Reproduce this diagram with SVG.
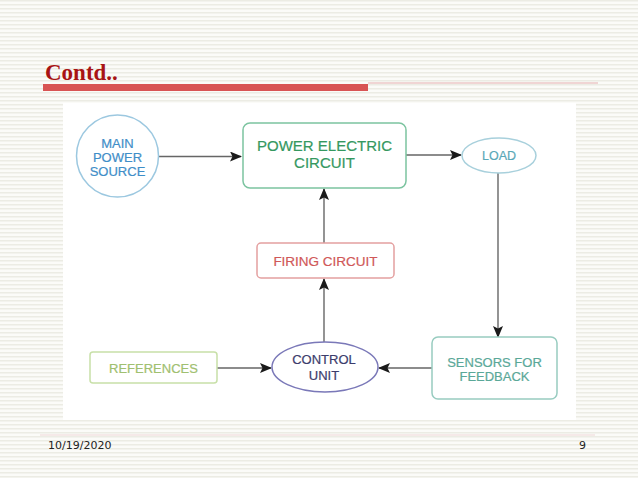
<svg xmlns="http://www.w3.org/2000/svg" width="638" height="478" viewBox="0 0 638 478">
<defs>
<pattern id="stripes" width="4" height="4" patternUnits="userSpaceOnUse">
<rect width="4" height="4" fill="#fbfbf8"/>
<rect y="0" width="4" height="1.5" fill="#ecece4"/>
</pattern>
<marker id="ah" viewBox="0 0 12 10" refX="11" refY="5" markerWidth="12" markerHeight="10" markerUnits="userSpaceOnUse" orient="auto">
<path d="M0,0 L12,5 L0,10 L2.5,5 Z" fill="#1a1a1a"/>
</marker>
<style>
text.t{font-family:"Liberation Sans",Arial,Helvetica,sans-serif;text-anchor:middle;stroke-width:0.2}
.c{stroke:#666;stroke-width:1.4;fill:none;marker-end:url(#ah)}
</style>
</defs>
<rect width="638" height="478" fill="url(#stripes)"/>
<text x="45" y="80" font-family="'Liberation Serif','Times New Roman',serif" font-weight="bold" font-size="23" fill="#a81414">Contd..</text>
<line x1="368" y1="83" x2="598" y2="83" stroke="#e6b0b0" stroke-width="1.2"/>
<rect x="43" y="84" width="325" height="7" fill="#d85454"/>
<rect x="63" y="103" width="513" height="317" fill="#ffffff"/>
<g id="connectors">
<line class="c" x1="159" y1="156.5" x2="241" y2="156.5"/>
<line class="c" x1="406" y1="155" x2="461" y2="155"/>
<line class="c" x1="498" y1="173" x2="498" y2="337"/>
<line class="c" x1="324" y1="243" x2="324" y2="189"/>
<line class="c" x1="324" y1="342" x2="324" y2="279"/>
<line class="c" x1="432" y1="368" x2="379" y2="368"/>
<line class="c" x1="217" y1="368" x2="271" y2="368"/>
</g>
<g id="main-power-source">
<circle cx="117.5" cy="156" r="41" fill="#fff" stroke="#9cc8e0" stroke-width="1.5"/>
<text class="t" font-size="13" fill="#3f8ec8" stroke="#3f8ec8"><tspan x="117.5" y="148">MAIN</tspan><tspan x="117.5" y="162">POWER</tspan><tspan x="117.5" y="176">SOURCE</tspan></text>
</g>
<g id="power-electric-circuit">
<rect x="243" y="123" width="163" height="65" rx="7" fill="#fff" stroke="#7cc4a0" stroke-width="1.5"/>
<text class="t" font-size="15" fill="#35985f" stroke="#35985f"><tspan x="324.5" y="151">POWER ELECTRIC</tspan><tspan x="324.5" y="168">CIRCUIT</tspan></text>
</g>
<g id="load">
<ellipse cx="499" cy="155.5" rx="37" ry="17.5" fill="#fff" stroke="#a8d0dc" stroke-width="1.5"/>
<text class="t" x="499" y="160" font-size="12.5" fill="#5aa8b8" stroke="#5aa8b8">LOAD</text>
</g>
<g id="firing-circuit">
<rect x="257" y="243" width="137" height="35" rx="4" fill="#fff" stroke="#e4a0a0" stroke-width="1.5"/>
<text class="t" x="325.5" y="265.5" font-size="13.5" fill="#d05858" stroke="#d05858">FIRING CIRCUIT</text>
</g>
<g id="control-unit">
<ellipse cx="325" cy="367" rx="53" ry="25" fill="#fff" stroke="#7a78b8" stroke-width="1.5"/>
<text class="t" font-size="13" fill="#3c3c6c" stroke="#3c3c6c"><tspan x="324" y="364">CONTROL</tspan><tspan x="324" y="380">UNIT</tspan></text>
</g>
<g id="sensors-for-feedback">
<rect x="432" y="337" width="125" height="62" rx="6" fill="#fff" stroke="#98ccc0" stroke-width="1.5"/>
<text class="t" font-size="13" fill="#5aa898" stroke="#5aa898"><tspan x="494.5" y="367">SENSORS FOR</tspan><tspan x="494.5" y="381">FEEDBACK</tspan></text>
</g>
<g id="references">
<rect x="90" y="352" width="127" height="31" rx="3" fill="#fff" stroke="#c8e0a8" stroke-width="1.5"/>
<text class="t" x="153.5" y="372.5" font-size="13" fill="#a0c070" stroke="#a0c070">REFERENCES</text>
</g>
<line x1="40" y1="435" x2="595" y2="435" stroke="#f0d8d8" stroke-width="1.2"/>
<text x="48" y="449" font-family="'DejaVu Sans',sans-serif" font-size="11" fill="#222">10/19/2020</text>
<text x="579" y="449" font-family="'DejaVu Sans',sans-serif" font-size="11" fill="#222">9</text>
</svg>
